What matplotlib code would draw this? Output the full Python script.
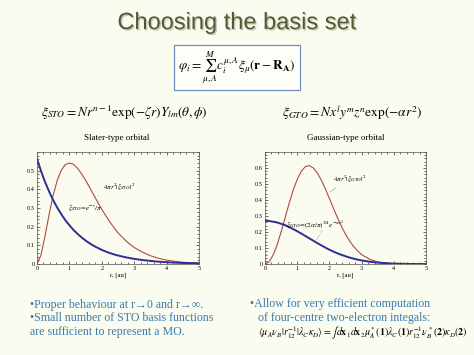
import matplotlib
matplotlib.use("Agg")
import matplotlib.pyplot as plt
import matplotlib.patheffects as pe

plt.rcParams['mathtext.fontset'] = 'stix'
plt.rcParams['font.family'] = ['Liberation Serif', 'DejaVu Serif']

# values (finer steps where the curves bend)
r_grid = [0, 0.125, 0.25, 0.375, 0.5, 0.625, 0.75, 0.875, 1, 1.125, 1.25, 1.375,
          1.5, 1.625, 1.75, 1.875, 2, 2.125, 2.25, 2.375, 2.5, 2.625, 2.75, 2.875,
          3, 3.25, 3.5, 3.75, 4, 4.25, 4.5, 4.75, 5]
sto_psi = [0.564, 0.498, 0.439, 0.388, 0.342, 0.302, 0.267, 0.235, 0.208, 0.183, 0.162,
           0.143, 0.126, 0.111, 0.098, 0.087, 0.076, 0.067, 0.059, 0.052, 0.046, 0.041,
           0.036, 0.032, 0.028, 0.022, 0.017, 0.013, 0.010, 0.008, 0.006, 0.005, 0.004]
sto_rad = [0.0, 0.049, 0.152, 0.266, 0.368, 0.448, 0.502, 0.532, 0.541, 0.534, 0.513,
           0.483, 0.448, 0.410, 0.370, 0.331, 0.293, 0.258, 0.225, 0.195, 0.168, 0.145,
           0.124, 0.105, 0.089, 0.064, 0.045, 0.031, 0.021, 0.015, 0.010, 0.007, 0.005]
gto_psi = [0.270, 0.269, 0.265, 0.260, 0.252, 0.243, 0.231, 0.219, 0.205, 0.191, 0.176,
           0.161, 0.146, 0.131, 0.117, 0.103, 0.090, 0.078, 0.067, 0.058, 0.049, 0.041,
           0.034, 0.028, 0.023, 0.015, 0.009, 0.006, 0.003, 0.002, 0.001, 0.0005, 0.0002]
gto_rad = [0.0, 0.014, 0.055, 0.119, 0.200, 0.289, 0.379, 0.461, 0.529, 0.579, 0.608,
           0.615, 0.600, 0.569, 0.524, 0.469, 0.409, 0.348, 0.289, 0.235, 0.186, 0.145,
           0.110, 0.082, 0.059, 0.030, 0.014, 0.006, 0.002, 0.001, 0.0003, 0.0, 0.0]

bg = '#fafcef'
blue = '#2e2e96'
red = '#b04a45'
txtblue = '#3b79b0'

fig = plt.figure(figsize=(4.74, 3.55), dpi=100, facecolor=bg)

# title
fig.text(0.5, 0.935, 'Choosing the basis set', ha='center', va='center',
         fontsize=17, color='#4e5c30', family='Liberation Sans',
         path_effects=[pe.withSimplePatchShadow(offset=(1, -1), alpha=0.22)])

# boxed expansion formula
fig.text(0.5, 0.81,
         r'$\varphi_i = \sum_{\mu,A}^{M} c_i^{\mu,A}\xi_\mu(\mathbf{r}-\mathbf{R}_\mathbf{A})$',
         ha='center', va='center', fontsize=9.5,
         bbox=dict(boxstyle='square,pad=0.3', fc='#fdfef8', ec='#7090c0', lw=0.9))

fig.text(0.262, 0.682, r'$\xi_{STO} = Nr^{n-1}\exp(-\zeta r)Y_{lm}(\theta,\phi)$',
         ha='center', va='center', fontsize=9.6)
fig.text(0.742, 0.682, r'$\xi_{GTO} = Nx^{l}y^{m}z^{n}\exp(-\alpha r^{2})$',
         ha='center', va='center', fontsize=9.6)
fig.text(0.247, 0.612, 'Slater-type orbital', ha='center', va='center', fontsize=6.5)
fig.text(0.73, 0.612, 'Gaussian-type orbital', ha='center', va='center', fontsize=6.5)

def style(ax, ytop, yt):
    ax.set_facecolor(bg)
    ax.set_xlim(0, 5)
    ax.set_ylim(0, ytop)
    ax.set_xticks(range(6))
    ax.set_yticks(yt)
    ax.set_yticklabels(['0'] + ['%.1f' % v for v in yt[1:]])
    ax.minorticks_on()
    ax.tick_params(which='both', direction='in', top=True, right=True,
                   labelsize=4.5, pad=1.5, width=0.4)
    ax.tick_params(which='major', length=2.5)
    ax.tick_params(which='minor', length=1.3)
    for s in ax.spines.values():
        s.set_linewidth(0.5)
        s.set_color('#555555')
    ax.set_xlabel('r, [au]', fontsize=4.8, labelpad=1)

ax1 = fig.add_axes([0.078, 0.256, 0.342, 0.316])
ax1.plot(r_grid, sto_rad, color=red, lw=0.8)
ax1.plot(r_grid, sto_psi, color=blue, lw=1.4)
style(ax1, 0.6, [0, 0.1, 0.2, 0.3, 0.4, 0.5])
ax1.text(0.95, 0.29, r'$\xi_{STO}\!=\!e^{-r}/\pi$', fontsize=5)
ax1.annotate(r'$4\pi r^2|\xi_{STO}|^2$', xy=(1.8, 0.36), xytext=(2.05, 0.4),
             fontsize=5, arrowprops=dict(arrowstyle='-', ls=':', lw=0.5, color='#777777'))

ax2 = fig.add_axes([0.559, 0.256, 0.340, 0.316])
ax2.plot(r_grid, gto_rad, color=red, lw=0.8)
ax2.plot(r_grid, gto_psi, color=blue, lw=1.4)
style(ax2, 0.7, [0, 0.1, 0.2, 0.3, 0.4, 0.5, 0.6])
ax2.text(0.65, 0.235, r'$\xi_{GTO}\!=\!(2\alpha/\pi)^{3/4}e^{-\alpha r^2}$', fontsize=5)
ax2.annotate(r'$4\pi r^2|\xi_{GTO}|^2$', xy=(1.95, 0.44), xytext=(2.1, 0.52),
             fontsize=5, arrowprops=dict(arrowstyle='-', ls=':', lw=0.5, color='#777777'))
ax2.plot([1.6, 1.8], [0.15, 0.22], ls=':', lw=0.5, color='#777777')

# bullet text
left_lines = ['\u2022Proper behaviour at r\u21920 and r\u2192\u221e.',
              '\u2022Small number of STO basis functions',
              'are sufficient to represent a MO.']
for i, t in enumerate(left_lines):
    fig.text(0.063, 0.141 - i * 0.038, t, fontsize=8.6, color=txtblue, va='center')
fig.text(0.527, 0.144, '\u2022Allow for very efficient computation', fontsize=8.6,
         color=txtblue, va='center')
fig.text(0.544, 0.104, 'of four-centre two-electron integals:', fontsize=8.6,
         color=txtblue, va='center')
fig.text(0.765, 0.064,
         r'$\langle\mu_A\nu_B|r_{12}^{-1}|\lambda_C\kappa_D\rangle = \int d\mathbf{x}_1 d\mathbf{x}_2'
         r'\mu_A^*(\mathbf{1})\lambda_C(\mathbf{1})r_{12}^{-1}\nu_B^*(\mathbf{2})\kappa_D(\mathbf{2})$',
         fontsize=7.1, ha='center', va='center')

fig.savefig('out.png', dpi=100, facecolor=bg)
